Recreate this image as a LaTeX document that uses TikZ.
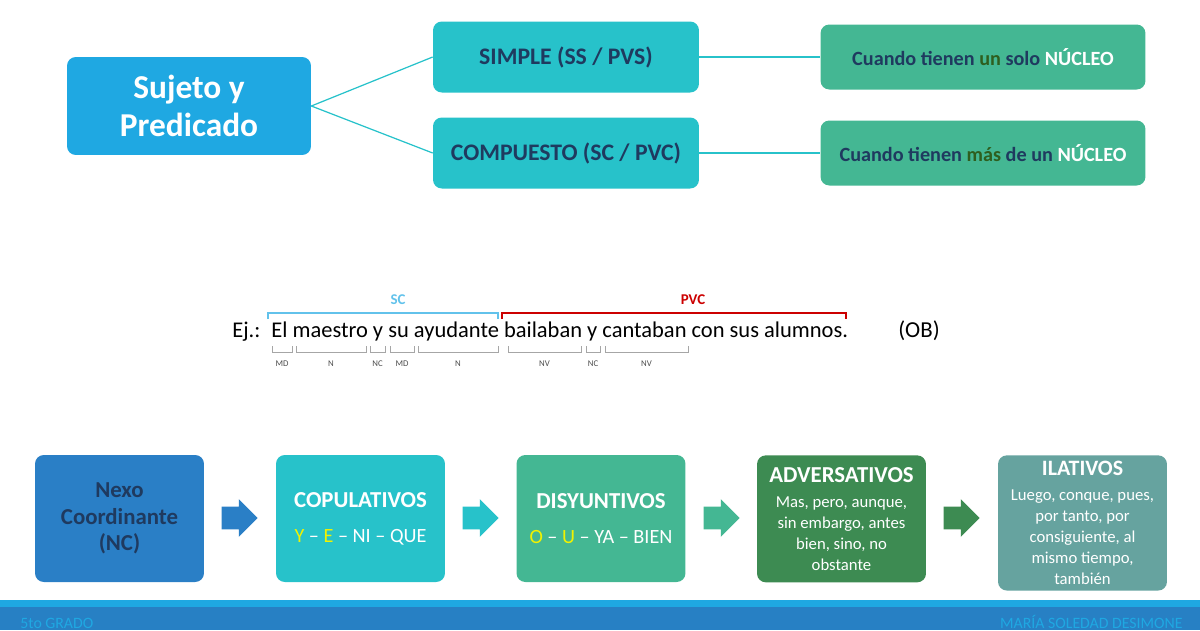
\documentclass[tikz,border=0pt]{standalone}
\usepackage{fontspec}
\setmainfont{Carlito}
\usepackage{xcolor}
\usetikzlibrary{shapes.arrows, positioning}
\definecolor{skyb}{HTML}{1FA8E2}
\definecolor{tealb}{HTML}{27C2CA}
\definecolor{greenb}{HTML}{44B793}
\definecolor{navyt}{HTML}{1F3A5F}
\definecolor{nexob}{HTML}{2A7FC6}
\definecolor{advb}{HTML}{3D8B52}
\definecolor{ilab}{HTML}{66A39F}
\definecolor{yel}{HTML}{F2F200}
\definecolor{dgreen}{HTML}{2E5E1E}
\definecolor{foot}{HTML}{2780C4}
\definecolor{footl}{HTML}{1FA8E2}

\begin{document}
\begin{tikzpicture}[x=0.02cm, y=-0.02cm, >=stealth]
\tikzset{
  box/.style = {rectangle, rounded corners=5pt, draw=none, text centered, font=\bfseries},
  bigbox/.style = {box, fill=#1, minimum width=3.38cm, minimum height=2.54cm, align=center},
  arrowb/.style = {single arrow, fill=#1, draw=none, single arrow head extend=0.15cm, minimum height=0.72cm, inner sep=0pt},
  link/.style = {draw=tealb, line width=0.7pt},
  brace/.style = {draw=#1, line width=0.6pt},
  tag/.style = {font=\fontsize{5}{6}\selectfont, text=black!70}
}
\useasboundingbox (0,0) rectangle (1200,630);
% top tree
\node [box, fill=skyb, text=white, minimum width=4.88cm, minimum height=1.96cm, font=\bfseries\fontsize{19}{22}\selectfont, align=center] (sujeto) at (189,106) {Sujeto y\\Predicado};
\node [box, fill=tealb, text=navyt, minimum width=5.32cm, minimum height=1.42cm, font=\bfseries\fontsize{13.5}{15}\selectfont] (simple) at (566,57) {SIMPLE (SS / PVS)};
\node [box, fill=tealb, text=navyt, minimum width=5.32cm, minimum height=1.42cm, font=\bfseries\fontsize{13.5}{15}\selectfont] (comp) at (566,153) {COMPUESTO (SC / PVC)};
\node [box, fill=greenb, text=navyt, minimum width=6.5cm, minimum height=1.3cm, font=\bfseries\fontsize{11.5}{13}\selectfont] (solo) at (983,57) {Cuando tienen \textcolor{dgreen}{un} solo \textcolor{white}{NÚCLEO}};
\node [box, fill=greenb, text=navyt, minimum width=6.5cm, minimum height=1.3cm, font=\bfseries\fontsize{11.5}{13}\selectfont] (mas) at (983,153) {Cuando tienen \textcolor{dgreen}{más} de un \textcolor{white}{NÚCLEO}};
\path [link] (sujeto.east) -- (simple.west);
\path [link] (sujeto.east) -- (comp.west);
\path [link] (simple.east) -- (solo.west);
\path [link] (comp.east) -- (mas.west);
% example sentence
\node [font=\fontsize{12.8}{15}\selectfont, anchor=base west, inner sep=0pt] (ej) at (232,337) {Ej.:};
\node [font=\fontsize{12.8}{15}\selectfont, anchor=base west, inner sep=0pt] (frase) at (271,337) {El maestro y su ayudante bailaban y cantaban con sus alumnos.};
\node [font=\fontsize{13}{15}\selectfont] (ob) at (919,331) {(OB)};
\draw [brace=skyb!70] (268,319) -- (268,313) -- (498,313) -- (498,319);
\draw [brace=red!80!black] (502,319) -- (502,313) -- (846,313) -- (846,319);
\node [font=\bfseries\fontsize{8.5}{9}\selectfont, text=skyb!70] (sc) at (398,300) {SC};
\node [font=\bfseries\fontsize{8.5}{9}\selectfont, text=red!80!black] (pvc) at (693,300) {PVC};
\foreach \a/\b/\t in {272/292/MD, 296/366/N, 370/385/NC, 390/414/MD, 418/498/N, 508/581/NV, 586/600/NC, 605/688/NV}{
  \draw [brace=gray!70, line width=0.4pt] (\a,346) -- (\a,352) -- (\b,352) -- (\b,346);
  \node [tag] at ({(\a+\b)/2},364) {\t};
}
% bottom chain
\node [bigbox=nexob, text=navyt, font=\bfseries\fontsize{13}{15}\selectfont] (nexo) at (119.5,518.5) {Nexo\\Coordinante\\(NC)};
\node [bigbox=tealb, text=white] (copu) at (360.5,518.5) {{\fontsize{13}{15}\selectfont COPULATIVOS}\\[8pt]{\mdseries\fontsize{11.5}{13}\selectfont\textcolor{yel}{Y} -- \textcolor{yel}{E} -- NI -- QUE}};
\node [bigbox=greenb, text=white] (disy) at (601,518.5) {{\fontsize{13}{15}\selectfont DISYUNTIVOS}\\[8pt]{\mdseries\fontsize{11.5}{13}\selectfont\textcolor{yel}{O} -- \textcolor{yel}{U} -- YA -- BIEN}};
\node [bigbox=advb, text=white, anchor=north] (adv) at (841.5,455) {\rule{0pt}{9pt}{\fontsize{13}{15}\selectfont ADVERSATIVOS}\\[2pt]{\mdseries\fontsize{9.5}{11}\selectfont Mas, pero, aunque,}\\{\mdseries\fontsize{9.5}{11}\selectfont sin embargo, antes}\\{\mdseries\fontsize{9.5}{11}\selectfont bien, sino, no}\\{\mdseries\fontsize{9.5}{11}\selectfont obstante}};
\node [bigbox=ilab, text=white, anchor=north] (ila) at (1082.5,455) {{\fontsize{12.5}{14}\selectfont ILATIVOS}\\[2pt]{\mdseries\fontsize{9.5}{11}\selectfont Luego, conque, pues,}\\{\mdseries\fontsize{9.5}{11}\selectfont por tanto, por}\\{\mdseries\fontsize{9.5}{11}\selectfont consiguiente, al}\\{\mdseries\fontsize{9.5}{11}\selectfont mismo tiempo,}\\{\mdseries\fontsize{9.5}{11}\selectfont también}};
\node [arrowb=nexob] (a1) at (234,518) {\rule{0pt}{0.44cm}};
\node [arrowb=tealb] (a2) at (475,518) {\rule{0pt}{0.44cm}};
\node [arrowb=greenb] (a3) at (716,518) {\rule{0pt}{0.44cm}};
\node [arrowb=advb] (a4) at (956,518) {\rule{0pt}{0.44cm}};
% footer
\fill [footl] (0,600) rectangle (1200,607);
\fill [foot] (0,607) rectangle (1200,630);
\node [anchor=base west, text=footl, font=\fontsize{9}{10}\selectfont, inner sep=0pt] (grado) at (20,628) {5to GRADO};
\node [anchor=base east, text=footl, font=\fontsize{9}{10}\selectfont, inner sep=0pt] (autora) at (1183,628) {MARÍA SOLEDAD DESIMONE};
\end{tikzpicture}
\end{document}
